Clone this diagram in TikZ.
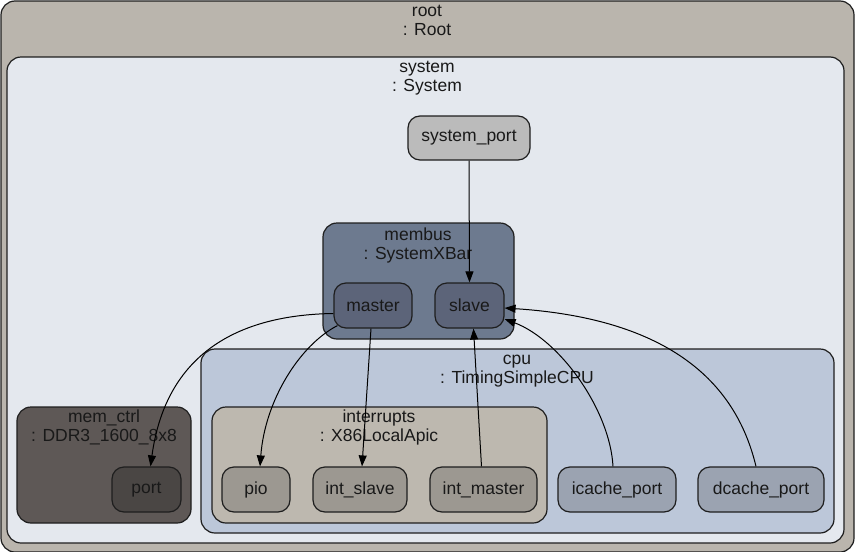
\documentclass[tikz,border=0pt]{standalone}
\usepackage{fontspec}
\setmainfont{Liberation Sans}
\usetikzlibrary{arrows.meta}
\definecolor{rootfill}{HTML}{BAB5AD}
\definecolor{sysfill}{HTML}{E4E8EE}
\definecolor{sysportfill}{HTML}{BBBBBB}
\definecolor{membusfill}{HTML}{6D7A8F}
\definecolor{mbportfill}{HTML}{5C6479}
\definecolor{cpufill}{HTML}{BCC7D9}
\definecolor{intfill}{HTML}{BDB8AF}
\definecolor{intportfill}{HTML}{9C9891}
\definecolor{cpuportfill}{HTML}{9BA3B1}
\definecolor{memfill}{HTML}{5E5856}
\definecolor{memportfill}{HTML}{4A4644}
\definecolor{edgecol}{HTML}{1E1E1E}
\tikzset{
  box/.style={draw=edgecol, line width=1.2pt, rounded corners=14pt, inner sep=0pt},
  portbox/.style={draw=edgecol, line width=1.2pt, rounded corners=12pt, inner sep=0pt, minimum height=45pt, font=\fontsize{17.5}{19}\selectfont, text=black!90},
  lbl/.style={align=center, inner sep=0pt, font=\fontsize{17.5}{19}\selectfont, text=black!90},
  conn/.style={draw=black, line width=1pt, -{Triangle[length=11pt,width=8pt]}},
}
\begin{document}
\begin{tikzpicture}[x=1pt,y=-1pt]
\useasboundingbox (0,0) rectangle (855,552);
% root
\node[box, fill=rootfill, minimum width=853pt, minimum height=551pt] (root) at (427.5,276.5) {};
\node[lbl] (rootlbl) at (427,20.5) {root\\: Root};
% system
\node[box, fill=sysfill, minimum width=837pt, minimum height=486pt] (system) at (425.5,300) {};
\node[lbl] (systemlbl) at (427,78.5) {system\\: System};
\node[portbox, fill=sysportfill, minimum width=122pt, minimum height=44pt] (sysport) at (469,138) {system\_port};
% membus
\node[box, fill=membusfill, minimum width=191pt, minimum height=116pt] (membus) at (418.5,281) {};
\node[lbl] (membuslbl) at (418,245.5) {membus\\: SystemXBar};
\node[portbox, fill=mbportfill, minimum width=78pt] (master) at (373,305.5) {master};
\node[portbox, fill=mbportfill, minimum width=69pt] (slave) at (469.5,305.5) {slave};
% mem_ctrl
\node[box, fill=memfill, minimum width=174pt, minimum height=116pt] (memctrl) at (104,465) {};
\node[lbl] (memctrllbl) at (104,427.5) {mem\_ctrl\\: DDR3\_1600\_8x8};
\node[portbox, fill=memportfill, minimum width=69pt] (port) at (146.5,489.5) {port};
% cpu
\node[box, fill=cpufill, minimum width=633pt, minimum height=184pt] (cpu) at (517.5,441) {};
\node[lbl] (cpulbl) at (517,371.5) {cpu\\: TimingSimpleCPU};
% interrupts
\node[box, fill=intfill, minimum width=335pt, minimum height=116pt] (interrupts) at (379.5,465) {};
\node[lbl] (intlbl) at (379,427.5) {interrupts\\: X86LocalApic};
\node[portbox, fill=intportfill, minimum width=68pt] (pio) at (256,489.5) {pio};
\node[portbox, fill=intportfill, minimum width=94pt] (intslave) at (360,489.5) {int\_slave};
\node[portbox, fill=intportfill, minimum width=107pt] (intmaster) at (483.5,489.5) {int\_master};
\node[portbox, fill=cpuportfill, minimum width=118pt] (icache) at (617,489.5) {icache\_port};
\node[portbox, fill=cpuportfill, minimum width=126pt] (dcache) at (761,489.5) {dcache\_port};
% connectors
\draw[conn] (sysport.south) -- (slave.north);
\draw[conn] ([yshift=-8pt]master.west) .. controls (230,315) and (165,360) .. ([xshift=4pt]port.north);
\draw[conn] ([xshift=4pt,yshift=3pt]master.south west) .. controls (300,345) and (265,400) .. ([xshift=4pt]pio.north);
\draw[conn] ([xshift=-2pt]master.south) -- ([xshift=2pt]intslave.north);
\draw[conn] ([xshift=-2pt]intmaster.north) -- ([xshift=4pt]slave.south);
\draw[conn] ([xshift=-4pt]icache.north) .. controls (610,410) and (560,340) .. ([yshift=-13.5pt]slave.east);
\draw[conn] ([xshift=-5pt]dcache.north) .. controls (740,400) and (690,320) .. ([yshift=-2.5pt]slave.east);
\end{tikzpicture}
\end{document}
